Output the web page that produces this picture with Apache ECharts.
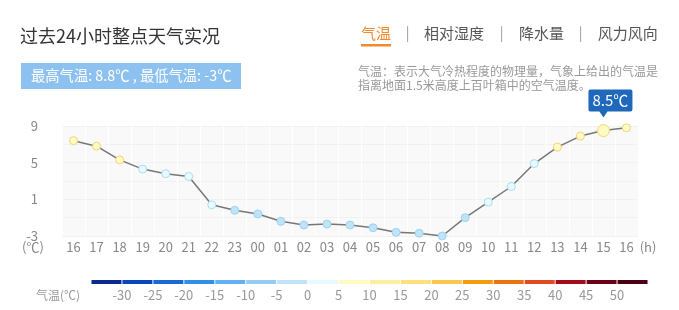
<!DOCTYPE html>
<html>
<head>
<meta charset="utf-8">
<script src="https://cdn.jsdelivr.net/npm/echarts@6/dist/echarts.min.js"></script>
<style>
html,body{margin:0;padding:0;background:#fff;}
#c{width:679px;height:310px;}
</style>
</head>
<body>
<div id="c"></div>
<script>
const hours = ['16','17','18','19','20','21','22','23','00','01','02','03','04','05','06','07','08','09','10','11','12','13','14','15','16'];
const temps = [7.4,6.8,5.3,4.3,3.8,3.5,0.4,-0.2,-0.6,-1.4,-1.8,-1.7,-1.8,-2.1,-2.6,-2.7,-3.0,-1.0,0.7,2.4,4.9,6.7,7.9,8.5,8.8];
const highlightIndex = 23;
const yTickLabels = [-3, 1, 5, 9];

const legendBreaks = [-30,-25,-20,-15,-10,-5,0,5,10,15,20,25,30,35,40,45,50];
const legendColors = ['#0b2a8c','#0b44bf','#1a69d2','#318fe8','#63b1f0','#93ccf0','#bfe3f7','#e7faff','#fffbc2','#fcee9e','#fde07a','#fbc74c','#f29b0c','#ec7410','#e44a22','#a10b1b','#6a0018','#4a0012'];
const pointBorders = ['#0b2a8c','#0b44bf','#1a69d2','#318fe8','#63b1f0','#7fc0e8','#9fd4ee','#a8def2','#f2d47c','#f0d070','#f0c860','#e8b040','#d88a0a','#d06a10','#c84020','#8a0a18','#580014','#3a000e'];

const FONT = '"Noto Sans CJK SC", "Noto Sans", sans-serif';

function bandOf(v){ let i=0; legendBreaks.forEach(b=>{ if(v>=b) i++; }); return i; }

const chart = echarts.init(document.getElementById('c'), null, {renderer:'canvas'});

const lineData = temps.map((v,i)=>{
  const b = bandOf(v);
  return {value:v, symbolSize: i===highlightIndex?12:8, itemStyle:{color:legendColors[b], borderColor:pointBorders[b], borderWidth:1}};
});

const legendData = legendColors.map((c,i)=>({value:[-32.5+5*i, 1], itemStyle:{color:c}}));

const orange = '#f08a30';
const tabGray = '#555';

chart.setOption({
  animation:false,
  textStyle:{fontFamily:FONT},
  grid:[
    {left:62, right:41, top:126, height:110, show:true, backgroundColor:'#f9f9f9', borderWidth:0, containLabel:false},
    {left:91, right:31, top:280, height:4, containLabel:false}
  ],
  xAxis:[
    {type:'category', gridIndex:0, data:hours, boundaryGap:true,
     axisLine:{show:false}, axisTick:{show:false},
     axisLabel:{color:'#888', fontSize:13, margin:5, interval:0, fontFamily:FONT},
     splitLine:{show:true, interval:0, lineStyle:{color:'#ffffff', width:1}}},
    {type:'value', gridIndex:1, min:-35, max:55, interval:5,
     axisLine:{show:false}, axisTick:{show:false}, splitLine:{show:false},
     axisLabel:{color:'#999', fontSize:13, margin:5, fontFamily:FONT,
       formatter:v=> legendBreaks.indexOf(v)>=0 ? String(v) : ''}}
  ],
  yAxis:[
    {type:'value', gridIndex:0, min:-3, max:9, interval:2,
     axisLine:{show:false}, axisTick:{show:false},
     axisLabel:{color:'#888', fontSize:13, margin:24, padding:[0,0,5,0], fontFamily:FONT,
       formatter:v=> yTickLabels.indexOf(v)>=0 ? String(v) : ''},
     splitLine:{show:true, lineStyle:{color:'#f1f1f1', width:1}}},
    {type:'value', gridIndex:1, min:0, max:1, show:false}
  ],
  series:[
    {type:'line', xAxisIndex:0, yAxisIndex:0, data:lineData, symbol:'circle',
     lineStyle:{color:'#777', width:1.5}, showAllSymbol:true, z:3,
     markPoint:{
       symbol:'path://M2,0 H42 Q44,0 44,2 V20 Q44,22 42,22 H19 L15,28 L11,22 H2 Q0,22 0,20 V2 Q0,0 2,0 Z',
       symbolSize:[44,28], symbolOffset:[7,-27],
       itemStyle:{color:'#2068bc'},
       label:{show:true, color:'#fff', fontSize:15, offset:[0,-3.5], fontFamily:FONT, formatter:p=>p.value+'℃'},
       data:[{coord:[highlightIndex, temps[highlightIndex]], value:temps[highlightIndex]}]
     }},
    {type:'bar', xAxisIndex:1, yAxisIndex:1, data:legendData, barWidth:30, silent:true}
  ],
  graphic:[
    {type:'text', left:20, top:27, style:{text:'过去24小时整点天气实况', fill:'#333', fontSize:18, fontFamily:FONT}},
    {type:'rect', shape:{x:21, y:63, width:220, height:26}, style:{fill:'#8dc1ef'}},
    {type:'text', x:31, y:76, style:{text:'最高气温: 8.8℃ , 最低气温: -3℃', fill:'#fff', fontSize:14.3, fontFamily:FONT, verticalAlign:'middle'}},
    {type:'text', x:361, y:33, style:{text:'气温', fill:orange, fontSize:15, fontFamily:FONT, verticalAlign:'middle'}},
    {type:'rect', shape:{x:361, y:44, width:30, height:2.5}, style:{fill:orange}},
    {type:'text', x:407.7, y:33, style:{text:'|', fill:'#999', fontSize:14, fontFamily:FONT, verticalAlign:'middle', align:'center'}},
    {type:'text', x:424, y:33, style:{text:'相对湿度', fill:tabGray, fontSize:15, fontFamily:FONT, verticalAlign:'middle'}},
    {type:'text', x:501.7, y:33, style:{text:'|', fill:'#999', fontSize:14, fontFamily:FONT, verticalAlign:'middle', align:'center'}},
    {type:'text', x:519, y:33, style:{text:'降水量', fill:tabGray, fontSize:15, fontFamily:FONT, verticalAlign:'middle'}},
    {type:'text', x:580.7, y:33, style:{text:'|', fill:'#999', fontSize:14, fontFamily:FONT, verticalAlign:'middle', align:'center'}},
    {type:'text', x:597.7, y:33, style:{text:'风力风向', fill:tabGray, fontSize:15, fontFamily:FONT, verticalAlign:'middle'}},
    {type:'text', x:358, y:71.5, style:{text:'气温：表示大气冷热程度的物理量，气象上给出的气温是', fill:'#999', fontSize:12, fontFamily:FONT, verticalAlign:'middle'}},
    {type:'text', x:358, y:85.5, style:{text:'指离地面1.5米高度上百叶箱中的空气温度。', fill:'#999', fontSize:12, fontFamily:FONT, verticalAlign:'middle'}},
    {type:'text', x:33, y:247, style:{text:'(℃)', fill:'#888', fontSize:13, fontFamily:FONT, verticalAlign:'middle', align:'center'}},
    {type:'text', x:648, y:247, style:{text:'(h)', fill:'#888', fontSize:13, fontFamily:FONT, verticalAlign:'middle', align:'center'}},
    {type:'text', x:58, y:295, style:{text:'气温(℃)', fill:'#999', fontSize:12, fontFamily:FONT, verticalAlign:'middle', align:'center'}}
  ]
});
</script>
</body>
</html>
